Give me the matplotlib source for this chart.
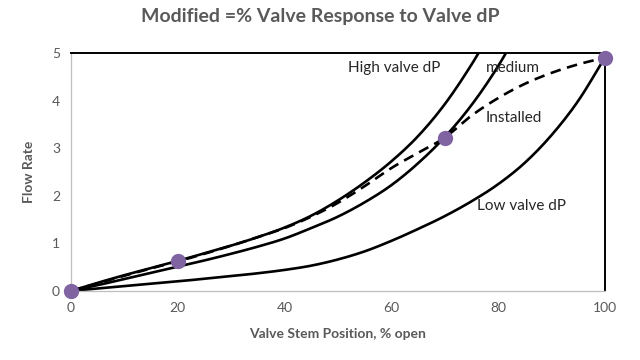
import matplotlib
matplotlib.use("Agg")
import numpy as np
import matplotlib.pyplot as plt

# --- data -----------------------------------------------------------------
stem_high = [0, 5, 10, 15, 20, 25, 30, 35, 40, 45, 50, 55, 60, 65, 70, 75, 80]
flow_high = [0, 0.17, 0.33, 0.48, 0.63, 0.79, 0.95, 1.13, 1.33, 1.58, 1.9,
             2.28, 2.72, 3.25, 3.92, 4.75, 5.7]

stem_medium = [0, 5, 10, 15, 20, 25, 30, 35, 40, 45, 50, 55, 60, 65, 70, 75,
               80, 85]
flow_medium = [0, 0.12, 0.25, 0.38, 0.51, 0.64, 0.78, 0.93, 1.1, 1.32, 1.56,
               1.86, 2.22, 2.68, 3.23, 3.9, 4.72, 5.7]

stem_low = [0, 5, 10, 15, 20, 25, 30, 35, 40, 45, 50, 55, 60, 65, 70, 75, 80,
            85, 90, 95, 100]
flow_low = [0, 0.05, 0.1, 0.15, 0.2, 0.255, 0.31, 0.37, 0.44, 0.53, 0.66, 0.83,
            1.05, 1.3, 1.57, 1.88, 2.24, 2.69, 3.27, 3.99, 4.9]

stem_installed = [0, 5, 10, 15, 20, 25, 30, 35, 40, 45, 50, 55, 60, 65, 70,
                  75, 80, 85, 90, 95, 100]
flow_installed = [0, 0.16, 0.32, 0.47, 0.62, 0.78, 0.95, 1.13, 1.32, 1.56,
                  1.85, 2.2, 2.58, 2.9, 3.22, 3.68, 4.05, 4.35, 4.58, 4.76,
                  4.9]

stem_points = [0, 20, 70, 100]
flow_points = [0, 0.62, 3.22, 4.9]

x_ticks = [0, 20, 40, 60, 80, 100]
y_ticks = [0, 1, 2, 3, 4, 5]

# --- style ----------------------------------------------------------------
plt.rcParams["font.family"] = ["Lato", "DejaVu Sans"]
GRAY = "#595959"
PURPLE = "#8064A2"


def smooth(xs, ys, steps=12):
    """Catmull-Rom rendering through the read points (like Excel smoothing)."""
    p = np.column_stack([xs, ys]).astype(float)
    p = np.vstack([2 * p[0] - p[1], p, 2 * p[-1] - p[-2]])
    t = np.linspace(0, 1, steps, endpoint=False)[:, None]
    out = []
    for i in range(1, len(p) - 2):
        p0, p1, p2, p3 = p[i - 1], p[i], p[i + 1], p[i + 2]
        out.append(0.5 * (2 * p1 + (-p0 + p2) * t
                          + (2 * p0 - 5 * p1 + 4 * p2 - p3) * t ** 2
                          + (-p0 + 3 * p1 - 3 * p2 + p3) * t ** 3))
    out.append(p[-2][None, :])
    out = np.vstack(out)
    return out[:, 0], out[:, 1]


fig = plt.figure(figsize=(6.4, 3.6), dpi=100)
ax = fig.add_axes([0.111, 0.192, 0.834, 0.661])

for xs, ys in [(stem_high, flow_high), (stem_medium, flow_medium),
               (stem_low, flow_low)]:
    ax.plot(*smooth(xs, ys), color="black", lw=1.9)
ax.plot(*smooth(stem_installed, flow_installed), color="black", lw=1.9,
        linestyle=(0, (4, 2.5)))
ax.plot(stem_points, flow_points, linestyle="none", marker="o",
        markersize=10, color=PURPLE, clip_on=False, zorder=5)

ax.set_xlim(0, 100)
ax.set_ylim(0, 5)
ax.set_xticks(x_ticks)
ax.set_yticks(y_ticks)
ax.tick_params(length=0, labelsize=10, labelcolor=GRAY, pad=8)

for side in ("left", "bottom"):
    ax.spines[side].set_color("#BFBFBF")
    ax.spines[side].set_linewidth(0.9)
for side in ("top", "right"):
    ax.spines[side].set_color("black")
    ax.spines[side].set_linewidth(1.4)

ax.set_xlabel("Valve Stem Position, % open", fontsize=10, fontweight="bold",
              color=GRAY, labelpad=10)
ax.set_ylabel("Flow Rate", fontsize=10, fontweight="bold", color=GRAY,
              labelpad=12)
fig.text(0.5, 0.955, "Modified =% Valve Response to Valve dP", ha="center",
         va="center", fontsize=14, fontweight="bold", color=GRAY)

label_kw = dict(fontsize=11, color="#262626", va="center", ha="left")
ax.text(51.9, 4.68, "High valve dP", **label_kw)
ax.text(77.7, 4.68, "medium", **label_kw)
ax.text(77.7, 3.63, "Installed", **label_kw)
ax.text(76.0, 1.79, "Low valve dP", **label_kw)

fig.savefig("out.png", dpi=100, facecolor="white")
